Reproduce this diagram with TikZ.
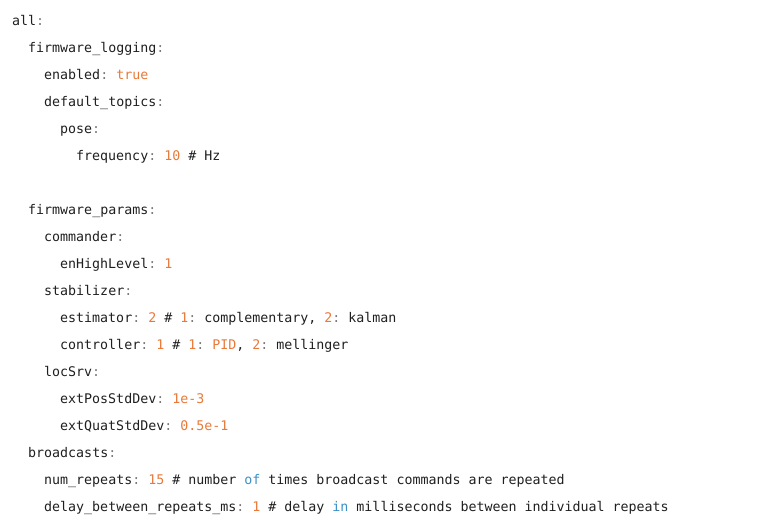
\documentclass[tikz,border=0pt]{standalone}
\usepackage{fontspec}
\setmonofont{DejaVu Sans Mono}
\definecolor{kc}{HTML}{1F1F1F}
\definecolor{pc}{HTML}{7A7A7A}
\definecolor{nc}{HTML}{E8793A}
\definecolor{bc}{HTML}{3A8FC7}
\newcommand{\C}{\textcolor{pc}{:}}
\newcommand{\N}[1]{\textcolor{nc}{#1}}
\newcommand{\B}[1]{\textcolor{bc}{#1}}
\tikzset{ln/.style={anchor=base west,inner sep=0pt,font=\ttfamily\fontsize{13.3}{15}\selectfont,text=kc}}
\begin{document}
\begin{tikzpicture}[x=1pt,y=-1pt]
\useasboundingbox (0,0) rectangle (763,525);
\node[ln] (l1) at (12,25) {all\C};
\node[ln] (l2) at (28,52) {firmware\_logging\C};
\node[ln] (l3) at (44,79) {enabled\C{} \N{true}};
\node[ln] (l4) at (44,106) {default\_topics\C};
\node[ln] (l5) at (60,133) {pose\C};
\node[ln] (l6) at (76,160) {frequency\C{} \N{10} \# Hz};
\node[ln] (l7) at (28,214) {firmware\_params\C};
\node[ln] (l8) at (44,241) {commander\C};
\node[ln] (l9) at (60,268) {enHighLevel\C{} \N{1}};
\node[ln] (l10) at (44,295) {stabilizer\C};
\node[ln] (l11) at (60,322) {estimator\C{} \N{2} \# \N{1}\C{} complementary, \N{2}\C{} kalman};
\node[ln] (l12) at (60,349) {controller\C{} \N{1} \# \N{1}\C{} \N{PID}, \N{2}\C{} mellinger};
\node[ln] (l13) at (44,376) {locSrv\C};
\node[ln] (l14) at (60,403) {extPosStdDev\C{} \N{1e-3}};
\node[ln] (l15) at (60,430) {extQuatStdDev\C{} \N{0.5e-1}};
\node[ln] (l16) at (28,457) {broadcasts\C};
\node[ln] (l17) at (44,484) {num\_repeats\C{} \N{15} \# number \B{of} times broadcast commands are repeated};
\node[ln] (l18) at (44,511) {delay\_between\_repeats\_ms\C{} \N{1} \# delay \B{in} milliseconds between individual repeats};
\end{tikzpicture}
\end{document}
